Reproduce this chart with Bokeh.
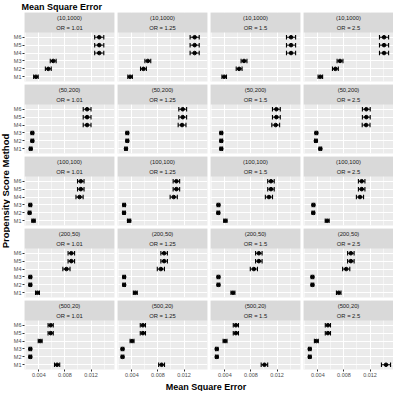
import math
from bokeh.plotting import figure
from bokeh.models import (Range1d, FixedTicker, BoxAnnotation, Label, Whisker,
                          TeeHead, ColumnDataSource, PrintfTickFormatter)
from bokeh.layouts import row, column
from bokeh.embed import file_html
from bokeh.resources import INLINE

# ---------------- data ----------------
methods = ["M1", "M2", "M3", "M4", "M5", "M6"]
designs = ["(10,1000)", "(50,200)", "(100,100)", "(200,50)", "(500,20)"]
odds = ["OR = 1.01", "OR = 1.25", "OR = 1.5", "OR = 2.5"]
x_ticks = [0.004, 0.008, 0.012]
x_minor = [0.002, 0.006, 0.010, 0.014]

# mean square error, one list per OR column, values for M1..M6
mse_10_1000 = [
    [0.00355, 0.00545, 0.0062, 0.01326, 0.01326, 0.01326],
    [0.00373, 0.00578, 0.00645, 0.01363, 0.01363, 0.01363],
    [0.0039, 0.00619, 0.00694, 0.01415, 0.01415, 0.01415],
    [0.00438, 0.00669, 0.0074, 0.01415, 0.01415, 0.01415],
]
mse_50_200 = [
    [0.00275, 0.0030, 0.0030, 0.0114, 0.0114, 0.0114],
    [0.0031, 0.0033, 0.0033, 0.0117, 0.0118, 0.0118],
    [0.00345, 0.00345, 0.00345, 0.0118, 0.0119, 0.0119],
    [0.00438, 0.0037, 0.00377, 0.0114, 0.01143, 0.01143],
]
mse_100_100 = [
    [0.00318, 0.00258, 0.00269, 0.01024, 0.01043, 0.01043],
    [0.00358, 0.0028, 0.00282, 0.01042, 0.01083, 0.01083],
    [0.00408, 0.0030, 0.00302, 0.01076, 0.01107, 0.01107],
    [0.00543, 0.0033, 0.00332, 0.01046, 0.01072, 0.01072],
]
mse_200_50 = [
    [0.00379, 0.00269, 0.00269, 0.00823, 0.00898, 0.00898],
    [0.00453, 0.00282, 0.00282, 0.00845, 0.00895, 0.00895],
    [0.00524, 0.00302, 0.00302, 0.00845, 0.00921, 0.00921],
    [0.0072, 0.00317, 0.00317, 0.00835, 0.00906, 0.00906],
]
mse_500_20 = [
    [0.0068, 0.00269, 0.00269, 0.0042, 0.00581, 0.00581],
    [0.00856, 0.00257, 0.00257, 0.00403, 0.00569, 0.00569],
    [0.01007, 0.00276, 0.00276, 0.00403, 0.00569, 0.00569],
    [0.01445, 0.00276, 0.00276, 0.00377, 0.00554, 0.00554],
]

# half width of the interval, M1..M6
err_10_1000 = [
    [0.00035, 0.00045, 0.00045, 0.0007, 0.0007, 0.0007],
    [0.00035, 0.00045, 0.00045, 0.0007, 0.0007, 0.0007],
    [0.00035, 0.00045, 0.00045, 0.0007, 0.0007, 0.0007],
    [0.00035, 0.00045, 0.00045, 0.0007, 0.0007, 0.0007],
]
err_50_200 = [
    [0.0002, 0.0002, 0.0002, 0.0006, 0.0006, 0.0006],
    [0.0002, 0.0002, 0.0002, 0.0006, 0.0006, 0.0006],
    [0.0002, 0.0002, 0.0002, 0.0006, 0.0006, 0.0006],
    [0.0002, 0.0002, 0.0002, 0.0006, 0.0006, 0.0006],
]
err_100_100 = [
    [0.00025, 0.0002, 0.0002, 0.00055, 0.0005, 0.0005],
    [0.00025, 0.0002, 0.0002, 0.00055, 0.0005, 0.0005],
    [0.00025, 0.0002, 0.0002, 0.00055, 0.0005, 0.0005],
    [0.0003, 0.0002, 0.0002, 0.00055, 0.0005, 0.0005],
]
err_200_50 = [
    [0.0003, 0.0002, 0.0002, 0.00055, 0.0005, 0.0005],
    [0.0003, 0.0002, 0.0002, 0.00055, 0.0005, 0.0005],
    [0.0003, 0.0002, 0.0002, 0.00055, 0.0005, 0.0005],
    [0.00035, 0.0002, 0.0002, 0.00055, 0.0005, 0.0005],
]
err_500_20 = [
    [0.0004, 0.0002, 0.0002, 0.0003, 0.0004, 0.0004],
    [0.00045, 0.0002, 0.0002, 0.0003, 0.0004, 0.0004],
    [0.0005, 0.0002, 0.0002, 0.0003, 0.0004, 0.0004],
    [0.0007, 0.0002, 0.0002, 0.0003, 0.0004, 0.0004],
]

mse_rows = [mse_10_1000, mse_50_200, mse_100_100, mse_200_50, mse_500_20]
err_rows = [err_10_1000, err_50_200, err_100_100, err_200_50, err_500_20]

# ---------------- styling / layout ----------------
FONT = "Liberation Sans"
FRAME_W, FRAME_H = 90, 69
DATA_H = 49
GAP = 3
AXIS_H = 11
Y_LO, Y_HI = 0.4, len(methods) + 0.6
Y_TOP = Y_LO + (Y_HI - Y_LO) * FRAME_H / DATA_H
UNIT_PER_PX = (Y_HI - Y_LO) / DATA_H
STRIP_H = FRAME_H - DATA_H
X_LO, X_HI = 0.0018, 0.0156
y_pos = list(range(1, len(methods) + 1))

nrow, ncol = len(designs), len(odds)
grid_rows = []
for i in range(nrow):
    figs = []
    for j in range(ncol):
        bottom = (i == nrow - 1)
        left = (j == 0)
        p = figure(frame_width=FRAME_W, frame_height=FRAME_H,
                   x_range=Range1d(X_LO, X_HI), y_range=Range1d(Y_LO, Y_TOP),
                   x_axis_location="below" if bottom else None,
                   y_axis_location="left" if left else None,
                   output_backend="svg", toolbar_location=None,
                   min_border_left=11 if left else 2,
                   min_border_right=0 if j == ncol - 1 else 1,
                   min_border_top=0, min_border_bottom=0 if bottom else GAP,
                   background_fill_color="#EBEBEB", border_fill_color="white",
                   outline_line_color=None)
        xt = FixedTicker(ticks=x_ticks, minor_ticks=x_minor)
        yt = FixedTicker(ticks=y_pos, minor_ticks=[])
        p.xgrid.ticker = xt
        p.ygrid.ticker = yt
        p.xgrid.grid_line_color = "white"
        p.xgrid.grid_line_width = 1
        p.xgrid.minor_grid_line_color = "white"
        p.xgrid.minor_grid_line_width = 0.5
        p.ygrid.grid_line_color = "white"
        p.ygrid.grid_line_width = 1
        if bottom:
            ax = p.xaxis[0]
            ax.ticker = xt
            ax.formatter = PrintfTickFormatter(format="%.3f")
            ax.axis_line_color = None
            ax.major_tick_out = 2
            ax.major_tick_in = 0
            ax.minor_tick_out = 0
            ax.minor_tick_in = 0
            ax.major_tick_line_color = "#333333"
            ax.major_label_standoff = 1
            ax.major_label_text_font = FONT
            ax.major_label_text_font_size = "5.5px"
            ax.major_label_text_color = "#4D4D4D"
        if left:
            ay = p.yaxis[0]
            ay.ticker = yt
            ay.major_label_overrides = {k: m for k, m in zip(y_pos, methods)}
            ay.axis_line_color = None
            ay.major_tick_out = 2
            ay.major_tick_in = 0
            ay.minor_tick_out = 0
            ay.minor_tick_in = 0
            ay.major_tick_line_color = "#333333"
            ay.major_label_standoff = 1
            ay.major_label_text_font = FONT
            ay.major_label_text_font_size = "5.5px"
            ay.major_label_text_color = "#4D4D4D"

        vals = mse_rows[i][j]
        errs = err_rows[i][j]
        src = ColumnDataSource(dict(
            x=vals, y=y_pos,
            lo=[v - e for v, e in zip(vals, errs)],
            hi=[v + e for v, e in zip(vals, errs)]))
        wh = Whisker(source=src, base="y", lower="lo", upper="hi",
                     dimension="width", line_color="black", line_width=1,
                     upper_head=TeeHead(size=4.5, line_width=1.1, line_color="black"),
                     lower_head=TeeHead(size=4.5, line_width=1.1, line_color="black"),
                     level="glyph")
        p.add_layout(wh)
        p.scatter("x", "y", source=src, size=3.6, color="black")

        strip = BoxAnnotation(bottom=Y_HI, fill_color="#D9D9D9", fill_alpha=1.0,
                              line_color=None)
        p.add_layout(strip)
        xc = (X_LO + X_HI) / 2
        p.add_layout(Label(x=xc, y=Y_HI + STRIP_H * 0.75 * UNIT_PER_PX, text=designs[i],
                           text_align="center", text_baseline="middle",
                           text_font=FONT, text_font_size="5.8px",
                           text_color="#1A1A1A"))
        p.add_layout(Label(x=xc, y=Y_HI + STRIP_H * 0.25 * UNIT_PER_PX, text=odds[j],
                           text_align="center", text_baseline="middle",
                           text_font=FONT, text_font_size="5.8px",
                           text_color="#1A1A1A"))
        figs.append(p)
    grid_rows.append(row(*figs, spacing=0))

grid = column(*grid_rows, spacing=0)

PANEL_SPAN = (nrow - 1) * (FRAME_H + GAP) + FRAME_H
GRID_H = PANEL_SPAN + AXIS_H
YT_W = 10
TOTAL_W = 390
TITLE_H = 12
XT_H = 11


def blank(w, h):
    f = figure(width=w, height=h, x_range=Range1d(0, w), y_range=Range1d(0, h),
               x_axis_location=None, y_axis_location=None, min_border=0,
               output_backend="svg", toolbar_location=None,
               outline_line_color=None, border_fill_color="white",
               background_fill_color="white")
    f.xgrid.visible = False
    f.ygrid.visible = False
    return f


title_fig = blank(TOTAL_W, TITLE_H)
title_fig.add_layout(Label(x=YT_W + 11, y=TITLE_H / 2, text="Mean Square Error",
                           text_align="left", text_baseline="middle",
                           text_font=FONT, text_font_style="bold",
                           text_font_size="9px", text_color="black"))

ytitle_fig = blank(YT_W, GRID_H)
ytitle_fig.add_layout(Label(x=5, y=GRID_H - PANEL_SPAN / 2,
                            text="Propensity Score Method", angle=math.pi / 2,
                            text_align="center", text_baseline="middle",
                            text_font=FONT, text_font_style="bold",
                            text_font_size="9.5px", text_color="black"))

xtitle_fig = blank(TOTAL_W, XT_H)
xtitle_fig.add_layout(Label(x=YT_W + 11 + (ncol * FRAME_W + (ncol - 1) * 3) / 2,
                            y=XT_H / 2 + 0.5,
                            text="Mean Square Error",
                            text_align="center", text_baseline="middle",
                            text_font=FONT, text_font_style="bold",
                            text_font_size="9px", text_color="black"))

layout = column(title_fig, row(ytitle_fig, grid, spacing=0), xtitle_fig, spacing=0)

with open("out.html", "w") as fh:
    fh.write(file_html(layout, INLINE))
